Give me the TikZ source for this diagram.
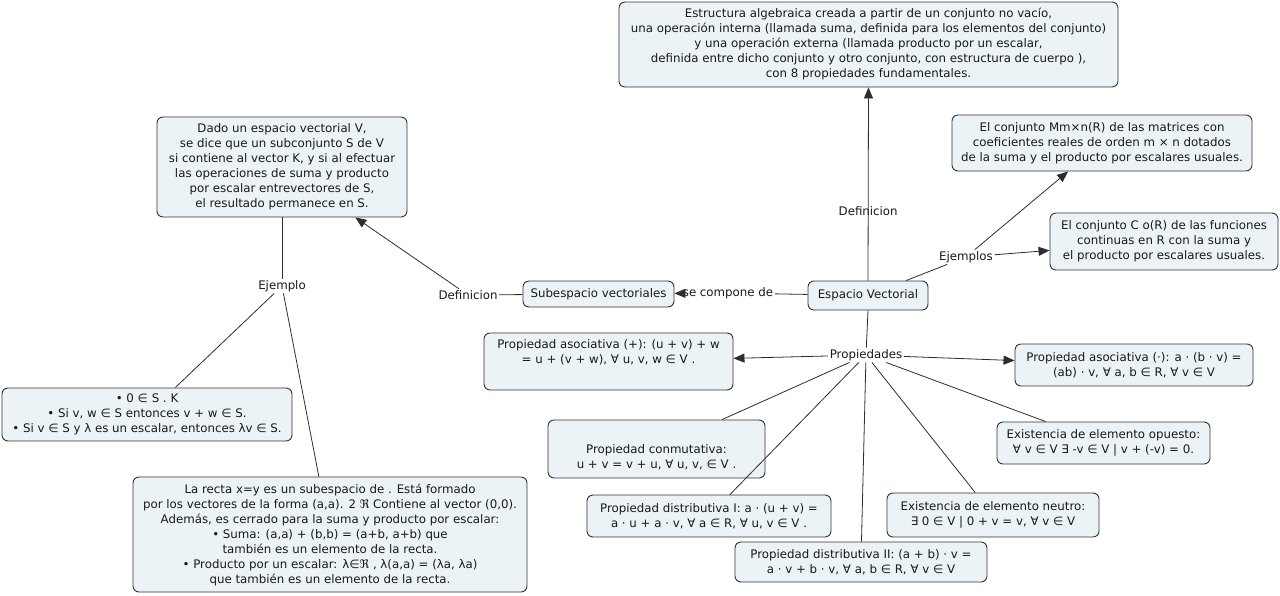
\documentclass[tikz,border=0pt]{standalone}
\usepackage{fontspec}
\setmainfont{DejaVu Sans}
\usetikzlibrary{arrows.meta}
\definecolor{boxfill}{RGB}{236,243,246}
\definecolor{boxline}{RGB}{50,50,50}
\definecolor{connc}{RGB}{45,45,45}
\definecolor{txt}{RGB}{25,25,25}
\begin{document}
\begin{tikzpicture}[x=1pt,y=-1pt,
  font=\fontsize{11.8}{15}\selectfont,
  box/.style={draw=boxline, fill=boxfill, rounded corners=6pt, line width=0.9pt, align=center, inner sep=2pt, text=txt},
  lbl/.style={inner sep=1.5pt, text=txt},
  conn/.style={draw=connc, line width=0.8pt},
  arr/.style={conn, -{Triangle[length=11pt,width=9pt]}}]
\useasboundingbox (0,0) rectangle (1280,595);

% boxes
\node[box, minimum width=499pt, minimum height=85pt] (top) at (868.5,44.5)
  {Estructura algebraica creada a partir de un conjunto no vacío,\\
   una operación interna (llamada suma, definida para los elementos del conjunto)\\
   y una operación externa (llamada producto por un escalar,\\
   definida entre dicho conjunto y otro conjunto, con estructura de cuerpo ),\\
   con 8 propiedades fundamentales.};
\node[box, minimum width=300pt, minimum height=56pt] (mat) at (1102,143)
  {El conjunto Mm×n(R) de las matrices con\\
   coeficientes reales de orden m × n dotados\\
   de la suma y el producto por escalares usuales.};
\node[box, minimum width=228pt, minimum height=57pt] (cor) at (1164,241.5)
  {El conjunto C o(R) de las funciones\\
   continuas en R con la suma y\\
   el producto por escalares usuales.};
\node[box, minimum width=120pt, minimum height=29pt] (ev) at (868,295.5) {Espacio Vectorial};
\node[box, minimum width=151pt, minimum height=26pt] (sub) at (598.5,294) {Subespacio vectoriales};
\node[box, minimum width=250pt, minimum height=100pt] (dado) at (282,167)
  {Dado un espacio vectorial V,\\
   se dice que un subconjunto S de V\\
   si contiene al vector K, y si al efectuar\\
   las operaciones de suma y producto\\
   por escalar entrevectores de S,\\
   el resultado permanece en S.};
\node[box, minimum width=290pt, minimum height=53pt] (bul) at (147,414.5)
  {• 0 ∈ S . K\\
   • Si v, w ∈ S entonces v + w ∈ S.\\
   • Si v ∈ S y λ es un escalar, entonces λv ∈ S.};
\node[box, minimum width=394pt, minimum height=115pt] (recta) at (330,534.5)
  {La recta x=y es un subespacio de . Está formado\\
   por los vectores de la forma (a,a). 2 ℜ Contiene al vector (0,0).\\
   Además, es cerrado para la suma y producto por escalar:\\
   • Suma: (a,a) + (b,b) = (a+b, a+b) que\\
   también es un elemento de la recta.\\
   • Producto por un escalar: λ∈ℜ , λ(a,a) = (λa, λa)\\
   que también es un elemento de la recta.};
\node[box, minimum width=249pt, minimum height=57pt] (asum) at (608.5,361.5)
  {Propiedad asociativa (+): (u + v) + w\\
   = u + (v + w), ∀ u, v, w ∈ V .\\ \strut};
\node[box, minimum width=217pt, minimum height=58pt] (conm) at (656.5,449)
  {\strut\\ Propiedad conmutativa:\\
   u + v = v + u, ∀ u, v, ∈ V .};
\node[box, minimum width=244pt, minimum height=42pt] (dis1) at (709,516)
  {Propiedad distributiva I: a · (u + v) =\\
   a · u + a · v, ∀ a ∈ R, ∀ u, v ∈ V .};
\node[box, minimum width=252pt, minimum height=40pt] (dis2) at (861,562)
  {Propiedad distributiva II: (a + b) · v =\\
   a · v + b · v, ∀ a, b ∈ R, ∀ v ∈ V};
\node[box, minimum width=212pt, minimum height=44pt] (neu) at (993,515)
  {Existencia de elemento neutro:\\
   ∃ 0 ∈ V | 0 + v = v, ∀ v ∈ V};
\node[box, minimum width=213pt, minimum height=42pt] (opu) at (1103.5,443)
  {Existencia de elemento opuesto:\\
   ∀ v ∈ V ∃ -v ∈ V | v + (-v) = 0.};
\node[box, minimum width=238pt, minimum height=42pt] (aprod) at (1134,365)
  {Propiedad asociativa (·): a · (b · v) =\\
   (ab) · v, ∀ a, b ∈ R, ∀ v ∈ V};

% labels
\node[lbl] (ejs) at (966,257) {Ejemplos};
\node[lbl] (secomp) at (728,293) {se compone de};
\node[lbl] (def2) at (468,295) {Definicion};
\node[lbl] (ejemplo) at (282,286) {Ejemplo};
\node[lbl] (prop) at (866,355) {Propiedades};

% connectors
\draw[arr] (ev.north) -- node[lbl, pos=0.36] (def1) {Definicion} (top.south);
\draw[conn] (ev) -- (ejs);
\draw[arr] (ejs) -- (mat);
\draw[arr] (ejs) -- (cor);
\draw[conn] (ev) -- (secomp);
\draw[arr] (secomp) -- (sub);
\draw[conn] (sub) -- (def2);
\draw[arr] (def2) -- (dado);
\draw[conn] (dado.south) -- (ejemplo);
\draw[conn] (ejemplo) -- (bul);
\draw[conn] (ejemplo) -- (recta);
\draw[conn] (ev.south) -- (prop);
\draw[arr] (prop) -- (asum);
\draw[arr] (prop) -- (aprod);
\draw[conn] (prop) -- (conm);
\draw[conn] (prop) -- (dis1);
\draw[conn] (prop) -- (dis2);
\draw[conn] (prop) -- (neu);
\draw[conn] (prop) -- (opu);
\end{tikzpicture}
\end{document}
